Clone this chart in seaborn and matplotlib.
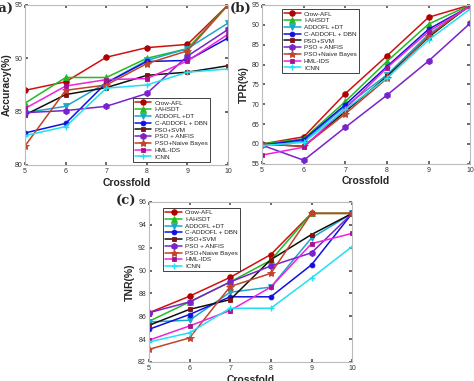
import numpy as np
import pandas as pd
import seaborn as sns
import matplotlib
matplotlib.use("Agg")
import matplotlib.pyplot as plt

sns.set_theme(style="white")
plt.rcParams['font.family'] = ['Liberation Sans', 'DejaVu Sans']

folds = [5, 6, 7, 8, 9, 10]
methods = ["Crow-AFL", "I-AHSDT", "ADDOFL +DT", "C-ADDOFL + DBN", "PSO+SVM",
           "PSO + ANFIS", "PSO+Naive Bayes", "HML-IDS", "ICNN"]

acc_crow = [87.0, 87.8, 90.1, 91.0, 91.3, 95.0]
acc_ahsdt = [85.8, 88.2, 88.2, 90.0, 90.9, 95.0]
acc_addofl = [84.9, 85.5, 87.7, 89.8, 90.9, 93.3]
acc_caddofl = [83.0, 83.9, 87.7, 89.7, 89.8, 91.9]
acc_svm = [84.7, 86.6, 87.25, 88.4, 88.7, 89.3]
acc_anfis = [84.9, 85.1, 85.5, 86.7, 90.2, 92.7]
acc_nb = [81.8, 87.0, 87.5, 89.5, 90.7, 95.0]
acc_hml = [85.3, 87.4, 88.0, 88.1, 89.75, 92.25]
acc_icnn = [82.75, 83.6, 87.2, 87.5, 88.7, 89.0]

tpr_crow = [60.0, 61.8, 72.7, 82.2, 91.9, 95.0]
tpr_ahsdt = [60.0, 61.3, 70.7, 80.8, 90.2, 95.0]
tpr_addofl = [59.7, 60.7, 69.5, 77.4, 87.6, 94.7]
tpr_caddofl = [59.7, 61.1, 69.9, 79.5, 88.9, 94.7]
tpr_svm = [60.0, 59.4, 68.2, 77.0, 86.9, 95.0]
tpr_anfis = [59.7, 55.9, 64.2, 72.3, 80.9, 90.4]
tpr_nb = [60.0, 59.4, 67.6, 76.5, 87.2, 95.0]
tpr_hml = [57.2, 59.2, 68.9, 79.2, 88.3, 94.7]
tpr_icnn = [59.6, 60.4, 68.7, 76.6, 86.2, 94.0]

tnr_crow = [86.3, 87.75, 89.4, 91.4, 95.0, 95.0]
tnr_ahsdt = [85.55, 87.25, 89.0, 90.9, 95.0, 95.0]
tnr_addofl = [85.5, 85.65, 88.1, 88.55, 92.85, 95.0]
tnr_caddofl = [84.85, 86.15, 87.7, 87.7, 90.5, 95.0]
tnr_svm = [85.2, 86.6, 87.45, 90.95, 93.15, 95.0]
tnr_anfis = [86.3, 87.25, 89.0, 90.4, 91.55, 95.0]
tnr_nb = [83.1, 84.1, 88.6, 89.75, 95.0, 95.0]
tnr_hml = [83.9, 85.15, 86.5, 88.55, 92.35, 93.25]
tnr_icnn = [83.75, 84.55, 86.7, 86.7, 89.35, 92.1]

colors = ["#d01010", "#22bb22", "#1aa8c8", "#1010e0", "#101010",
          "#7a22cc", "#c0442a", "#ee22dd", "#22e0f0"]
mfc = ["#b00000", "#22bb22", "#1aa8c8", "#1010e0", "#8a1010",
       "#7a22cc", "#c0442a", "#aa1090", "#22e0f0"]
markers = ["o", "^", "v", "o", "s", "h", "*", "s", "+"]
msizes = [4, 4.5, 4.5, 3.5, 3.5, 4.5, 6, 3, 5]

panels = [
    ("Accuracy(%)", [acc_crow, acc_ahsdt, acc_addofl, acc_caddofl, acc_svm, acc_anfis, acc_nb, acc_hml, acc_icnn],
     (80, 95), [80, 85, 90, 95], "(a)"),
    ("TPR(%)", [tpr_crow, tpr_ahsdt, tpr_addofl, tpr_caddofl, tpr_svm, tpr_anfis, tpr_nb, tpr_hml, tpr_icnn],
     (55, 95), [55, 60, 65, 70, 75, 80, 85, 90, 95], "(b)"),
    ("TNR(%)", [tnr_crow, tnr_ahsdt, tnr_addofl, tnr_caddofl, tnr_svm, tnr_anfis, tnr_nb, tnr_hml, tnr_icnn],
     (82, 96), [82, 84, 86, 88, 90, 92, 94, 96], "(c)"),
]

positions = [
    [0.053, 0.567, 0.428, 0.420],
    [0.553, 0.570, 0.439, 0.417],
    [0.314, 0.050, 0.429, 0.420],
]
legend_boxes = [
    (0.53, 0.02),
    (0.095, 0.975),
    (0.07, 0.965),
]
legend_locs = ["lower left", "upper left", "upper left"]
tag_x = [-0.055, -0.05, -0.06]
tag_y = [0.975, 0.975, 1.0]

fig = plt.figure(figsize=(4.74, 3.81), dpi=100)

for (ylabel, series, ylim, yticks, tag), pos, lb, lloc, tx, ty in zip(
        panels, positions, legend_boxes, legend_locs, tag_x, tag_y):
    ax = fig.add_axes(pos)
    rows = []
    for m, vals in zip(methods, series):
        for f, v in zip(folds, vals):
            rows.append({"Crossfold": f, "value": v, "method": m})
    df = pd.DataFrame(rows)
    for i, m in enumerate(methods):
        sub = df[df["method"] == m]
        sns.lineplot(data=sub, x="Crossfold", y="value", ax=ax, color=colors[i],
                     marker=markers[i], markersize=msizes[i], markerfacecolor=mfc[i],
                     markeredgecolor=mfc[i], markeredgewidth=1.0 if markers[i] == "+" else 0.6,
                     linewidth=1.1, label=m)
    ax.set_xlim(5, 10)
    ax.set_ylim(*ylim)
    ax.set_xticks(folds)
    ax.set_yticks(yticks)
    ax.tick_params(axis="both", labelsize=5, colors="#555555", length=2, direction="in", pad=2,
                   top=True, right=True, bottom=True, left=True)
    ax.tick_params(axis="both", labelcolor="#333333")
    for s in ax.spines.values():
        s.set_color("#bbbbbb")
        s.set_linewidth(0.8)
    ax.set_xlabel("Crossfold", fontsize=7.5, fontweight="bold", labelpad=2)
    ax.set_ylabel(ylabel, fontsize=7.5, fontweight="bold", labelpad=2)
    leg = ax.legend(loc=lloc, bbox_to_anchor=lb, fontsize=4.6, frameon=True, fancybox=False,
                    framealpha=1, handlelength=2.6, handletextpad=0.5, borderpad=0.35,
                    labelspacing=0.2, borderaxespad=0)
    leg.get_frame().set_edgecolor("#222222")
    leg.get_frame().set_facecolor("white")
    leg.get_frame().set_linewidth(0.6)
    ax.text(tx, ty, tag, transform=ax.transAxes, ha="right", va="center",
            fontsize=9.5, fontweight="bold", family="DejaVu Serif")

fig.savefig("out.png", dpi=100)
